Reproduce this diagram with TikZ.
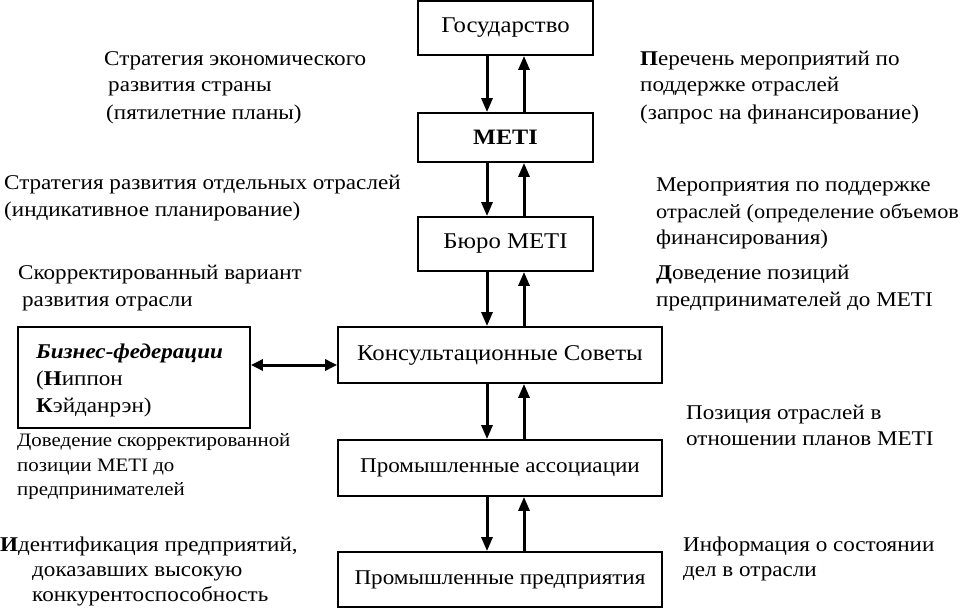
\documentclass[tikz,border=0pt]{standalone}
\usepackage{fontspec}
\setmainfont{Liberation Serif}[FakeStretch=1.1]
\usetikzlibrary{arrows.meta}
\tikzset{
  box/.style={draw, line width=1.8pt, inner sep=0pt, font=\fontsize{21}{26}\selectfont},
  lbl/.style={anchor=base west, inner sep=0pt, font=\fontsize{21}{26}\selectfont},
  slbl/.style={anchor=base west, inner sep=0pt, font=\fontsize{19}{24}\selectfont},
  arr/.style={line width=3pt, -{Triangle[length=14pt,width=11pt]}},
  darr/.style={line width=3pt, {Triangle[length=12pt,width=11pt]}-{Triangle[length=12pt,width=11pt]}}
}
\begin{document}
\begin{tikzpicture}[x=1pt,y=-1pt]
\useasboundingbox (0,0) rectangle (967,610);
% boxes
\node[box, minimum width=175pt, minimum height=54pt] (g) at (505.5,28) {\fontsize{22.5}{26}\selectfont Государство};
\node[box, minimum width=175pt, minimum height=49pt] (m) at (505.5,137.5) {\fontsize{22}{26}\selectfont\textbf{METI}};
\node[box, minimum width=175pt, minimum height=54pt] (b) at (505.5,244) {\fontsize{22.5}{26}\selectfont Бюро METI};
\node[box, minimum width=324pt, minimum height=56pt] (s) at (500,355) {\fontsize{22.5}{26}\selectfont Консультационные Советы};
\node[box, minimum width=324pt, minimum height=56pt] (a) at (500,468) {Промышленные ассоциации};
\node[box, minimum width=324pt, minimum height=55pt] (p) at (500,579.5) {Промышленные предприятия};
\node[box, minimum width=232pt, minimum height=101pt] (f) at (134,377.5) {};
% text inside federation box
\node[lbl] (f1) at (36,358) {\textbf{\textit{Бизнес-федерации}}};
\node[lbl] (f2) at (36,385) {(\textbf{Н}иппон};
\node[lbl] (f3) at (36,412) {\textbf{К}эйданрэн)};
% arrow columns
\coordinate (dx) at (487,0);
\coordinate (ux) at (524,0);
\draw[arr] (g.south -| dx) -- (m.north -| dx);
\draw[arr] (m.north -| ux) -- (g.south -| ux);
\draw[arr] (m.south -| dx) -- (b.north -| dx);
\draw[arr] (b.north -| ux) -- (m.south -| ux);
\draw[arr] (b.south -| dx) -- (s.north -| dx);
\draw[arr] (s.north -| ux) -- (b.south -| ux);
\draw[arr] (s.south -| dx) -- (a.north -| dx);
\draw[arr] (a.north -| ux) -- (s.south -| ux);
\draw[arr] (a.south -| dx) -- (p.north -| dx);
\draw[arr] (p.north -| ux) -- (a.south -| ux);
\coordinate (hy) at (0,365);
\draw[darr] (f.east |- hy) -- (s.west |- hy);
% left labels
\node[lbl] (l1a) at (104,66) {Стратегия экономического};
\node[lbl] (l1b) at (108,92) {развития страны};
\node[lbl] (l1c) at (106,119) {(пятилетние планы)};
\node[lbl] (l2a) at (4,189) {Стратегия развития отдельных отраслей};
\node[lbl] (l2b) at (4,216) {(индикативное планирование)};
\node[lbl] (l3a) at (18,279) {Скорректированный вариант};
\node[lbl] (l3b) at (22,306) {развития отрасли};
\node[slbl] (l4a) at (17,446) {Доведение скорректированной};
\node[slbl] (l4b) at (17,471) {позиции METI до};
\node[slbl] (l4c) at (17,495) {предпринимателей};
\node[lbl] (l5a) at (0,551) {\textbf{И}дентификация предприятий,};
\node[lbl] (l5b) at (32,576) {доказавших высокую};
\node[lbl] (l5c) at (32,601) {конкурентоспособность};
% right labels
\node[lbl] (r1a) at (640,66) {\textbf{П}еречень мероприятий по};
\node[lbl] (r1b) at (640,92) {поддержке отраслей};
\node[lbl] (r1c) at (640,119) {(запрос на финансирование)};
\node[lbl] (r2a) at (656,191) {Мероприятия по поддержке};
\node[lbl, font=\fontsize{20.3}{26}\selectfont] (r2b) at (656,218) {отраслей (определение объемов};
\node[lbl] (r2c) at (656,244) {финансирования)};
\node[lbl] (r3a) at (656,279) {\textbf{Д}оведение позиций};
\node[lbl] (r3b) at (656,306) {предпринимателей до METI};
\node[lbl] (r4a) at (686,419) {Позиция отраслей в};
\node[lbl] (r4b) at (686,445) {отношении планов METI};
\node[lbl] (r5a) at (683,551) {Информация о состоянии};
\node[lbl] (r5b) at (683,576) {дел в отрасли};
\end{tikzpicture}
\end{document}
